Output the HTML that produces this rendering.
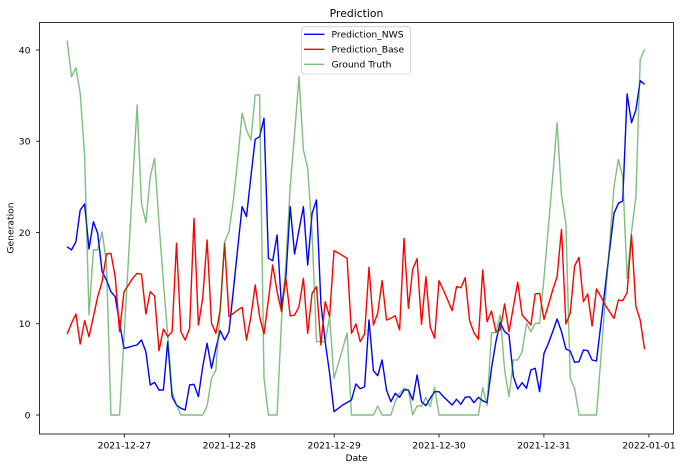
<!DOCTYPE html>
<html>
<head>
<meta charset="utf-8">
<style>
html,body{margin:0;padding:0;background:#fff;}
svg{display:block;}
text{font-family:"DejaVu Sans","Liberation Sans",sans-serif;fill:#000;}
</style>
</head>
<body>
<svg width="682" height="470" viewBox="0 0 682 470" xmlns="http://www.w3.org/2000/svg">
<rect x="0" y="0" width="682" height="470" fill="#fff"/>

<!-- title -->
<text x="356.5" y="16.8" font-size="10.8" text-anchor="middle">Prediction</text>

<!-- series -->
<g fill="none" stroke-width="1.4" stroke-linejoin="round">
<polyline stroke="#0000ff" points="67.1,246.7 71.5,250 75.9,241.7 80.2,210 84.6,204 89,249 93.4,221.7 97.7,233.3 102.1,271.7 106.5,280 110.9,291.7 115.2,296.7 119.6,323.3 124,348.3 128.4,347.3 132.7,346 137.1,345 141.5,340 145.9,351.7 150.2,385 154.6,382.3 159,390 163.4,390 167.7,341.7 172.1,396.7 176.5,405 180.9,408.3 185.2,410 189.6,385 194,384.3 198.4,396.7 202.7,366.7 207.1,343.3 211.5,368.3 215.9,348.3 220.2,330.7 224.6,340 229,331.7 233.4,290 237.7,248.3 242.1,206.7 246.5,216.7 250.9,176.7 255.2,139.3 259.6,136.7 264,118.3 268.4,258.3 272.7,260.7 277.1,235 281.5,306.7 285.9,276.7 290.2,206.7 294.6,254 299,230 303.4,206.7 307.7,265 312.1,213.3 316.5,200 320.9,303.3 325.2,341.7 329.6,373.3 334,411.7 338.4,408.3 342.7,405 347.1,402.5 351.5,400 355.9,384 360.2,388.7 364.6,386.7 369,320 373.4,370.7 377.7,375.7 382.1,360 386.5,390 390.9,401.7 395.2,393.3 399.6,397.3 404,390 408.4,390 412.7,400 417.1,375 421.5,401.7 425.9,405.7 430.2,398.3 434.6,391.7 439,391.7 443.4,396.7 447.7,400.7 452.1,405 456.5,399.3 460.9,404.3 465.2,397.3 469.6,396.7 474,402.7 478.4,397.3 482.7,400.7 487.1,402.7 491.5,368.3 495.9,341.7 500.2,322.3 504.6,331.7 509,335 513.4,376.7 517.7,389 522.1,382.7 526.5,388.3 530.9,370 535.2,368.3 539.6,391.7 544,353.3 548.4,343.3 552.7,331.7 557.1,319 561.5,331.7 565.9,349 570.2,351 574.6,362.3 579,361.7 583.4,350 587.7,350.7 592.1,360 596.5,361 600.9,324 605.2,287 609.6,250 614,213.3 618.4,203.3 622.7,201 627.1,94 631.5,122.7 635.9,110 640.2,80.7 644.6,84.3"/>
<polyline stroke="#ff0000" points="67.1,334 71.5,323.3 75.9,314 80.2,344 84.6,320.7 89,336.7 93.4,316.7 97.7,296.7 102.1,281.7 106.5,254 110.9,253.3 115.2,276.7 119.6,331.7 124,291.7 128.4,285 132.7,278.3 137.1,273.3 141.5,274.3 145.9,314 150.2,291.7 154.6,296 159,350.7 163.4,329 167.7,336.7 172.1,331.7 176.5,243.3 180.9,331.7 185.2,340 189.6,328.3 194,218.3 198.4,325 202.7,298.3 207.1,240 211.5,323.3 215.9,333.3 220.2,310 224.6,243.3 229,316.7 233.4,313.3 237.7,310 242.1,307.3 246.5,340 250.9,316.7 255.2,285 259.6,316.7 264,334 268.4,300 272.7,265 277.1,291.7 281.5,311.7 285.9,278.3 290.2,316 294.6,315 299,306.7 303.4,278.3 307.7,333.3 312.1,293.3 316.5,286.7 320.9,345 325.2,301.7 329.6,316.7 334,250.7 338.4,253 342.7,255.7 347.1,258.3 351.5,333.3 355.9,324 360.2,341.7 364.6,334 369,267.3 373.4,325 377.7,313.3 382.1,280.7 386.5,320 390.9,318.3 395.2,315.7 399.6,330 404,238.3 408.4,308.3 412.7,269.3 417.1,258.7 421.5,324.3 425.9,276.7 430.2,326.7 434.6,338.3 439,280.7 443.4,290 447.7,300 452.1,310.7 456.5,286.7 460.9,287.7 465.2,277.7 469.6,320.7 474,332.7 478.4,339.3 482.7,270 487.1,321.7 491.5,311 495.9,331.7 500.2,330 504.6,304 509,331.7 513.4,306.7 517.7,282.3 522.1,315 526.5,320 530.9,325 535.2,294 539.6,293.3 544,319.3 548.4,305 552.7,290 557.1,276.7 561.5,229.3 565.9,324 570.2,313.3 574.6,266 579,257.3 583.4,301.7 587.7,294 592.1,326 596.5,289 600.9,296.7 605.2,305 609.6,311.7 614,318.3 618.4,300 622.7,300.7 627.1,292.7 631.5,235 635.9,306.7 640.2,320 644.6,349.3"/>
<polyline stroke="#008000" stroke-opacity="0.5" points="67.1,40.5 71.5,76.7 75.9,67.7 80.2,93.3 84.6,155 89,315 93.4,250 97.7,250 102.1,232 106.5,263 110.9,415 115.2,415 119.6,415 124,337.5 128.4,260 132.7,182.5 137.1,105 141.5,203.3 145.9,222.7 150.2,176.7 154.6,158.3 159,223 163.4,282 167.7,335 172.1,391.7 176.5,405 180.9,415 185.2,415 189.6,415 194,415 198.4,415 202.7,415 207.1,406 211.5,378.3 215.9,370 220.2,310 224.6,241.7 229,231.7 233.4,200 237.7,160 242.1,113.3 246.5,130 250.9,140 255.2,95 259.6,95 264,378.3 268.4,415 272.7,415 277.1,415 281.5,320 285.9,263.3 290.2,186.7 294.6,133.3 299,76.7 303.4,150 307.7,168.3 312.1,233.3 316.5,341.7 320.9,341.7 325.2,341.7 329.6,316.7 334,378.3 338.4,363.3 342.7,348.3 347.1,333 351.5,415 355.9,415 360.2,415 364.6,415 369,415 373.4,415 377.7,406 382.1,415 386.5,415 390.9,415 395.2,401.7 399.6,393.3 404,388.3 408.4,390 412.7,415 417.1,406 421.5,406 425.9,397.3 430.2,406.7 434.6,387.3 439,415 443.4,415 447.7,415 452.1,415 456.5,415 460.9,415 465.2,415 469.6,415 474,415 478.4,415 482.7,387.7 487.1,405.3 491.5,332.7 495.9,332.7 500.2,315 504.6,370 509,396.7 513.4,360 517.7,360 522.1,351.7 526.5,323.3 530.9,331.7 535.2,323.3 539.6,323.3 544,278.3 548.4,226.7 552.7,176.7 557.1,122.7 561.5,195 565.9,223.3 570.2,378.3 574.6,388.3 579,415 583.4,415 587.7,415 592.1,415 596.5,415 600.9,358 605.2,301 609.6,244 614,186.7 618.4,159.3 622.7,176.7 627.1,278.3 631.5,232 635.9,196.7 640.2,59.3 644.6,49.3"/>
</g>

<!-- axes frame -->
<rect x="39.5" y="22.5" width="634" height="411.5" fill="none" stroke="#000" stroke-width="0.8"/>

<!-- y ticks -->
<g stroke="#000" stroke-width="0.8">
<line x1="36" y1="415" x2="39.5" y2="415"/>
<line x1="36" y1="323.75" x2="39.5" y2="323.75"/>
<line x1="36" y1="232.5" x2="39.5" y2="232.5"/>
<line x1="36" y1="141.25" x2="39.5" y2="141.25"/>
<line x1="36" y1="50" x2="39.5" y2="50"/>
</g>
<g font-size="9.2" text-anchor="end">
<text x="30.5" y="418.3">0</text>
<text x="30.5" y="327">10</text>
<text x="30.5" y="235.8">20</text>
<text x="30.5" y="144.5">30</text>
<text x="30.5" y="53.3">40</text>
</g>

<!-- x ticks -->
<g stroke="#000" stroke-width="0.8">
<line x1="124.3" y1="434" x2="124.3" y2="437.5"/>
<line x1="229.3" y1="434" x2="229.3" y2="437.5"/>
<line x1="334.2" y1="434" x2="334.2" y2="437.5"/>
<line x1="439" y1="434" x2="439" y2="437.5"/>
<line x1="543.9" y1="434" x2="543.9" y2="437.5"/>
<line x1="648.9" y1="434" x2="648.9" y2="437.5"/>
</g>
<g font-size="9.2" text-anchor="middle">
<text x="124.3" y="448.5">2021-12-27</text>
<text x="229.3" y="448.5">2021-12-28</text>
<text x="334.2" y="448.5">2021-12-29</text>
<text x="439" y="448.5">2021-12-30</text>
<text x="543.9" y="448.5">2021-12-31</text>
<text x="648.9" y="448.5">2022-01-01</text>
</g>

<!-- axis labels -->
<text x="356.5" y="461" font-size="9.2" text-anchor="middle">Date</text>
<text transform="translate(13.3,228) rotate(-90)" font-size="9.2" text-anchor="middle">Generation</text>

<!-- legend -->
<rect x="301.7" y="26.7" width="108.8" height="47.3" rx="2.5" ry="2.5" fill="#fff" fill-opacity="0.8" stroke="#cccccc" stroke-width="0.8"/>
<line x1="304" y1="34.3" x2="324.3" y2="34.3" stroke="#0000ff" stroke-width="1.4"/>
<line x1="304" y1="49.3" x2="324.3" y2="49.3" stroke="#ff0000" stroke-width="1.4"/>
<line x1="304" y1="64.3" x2="324.3" y2="64.3" stroke="#008000" stroke-opacity="0.5" stroke-width="1.4"/>
<g font-size="9.2">
<text x="331.5" y="37.6">Prediction_NWS</text>
<text x="331.5" y="52.6">Prediction_Base</text>
<text x="331.5" y="67.6">Ground Truth</text>
</g>
</svg>
</body>
</html>
